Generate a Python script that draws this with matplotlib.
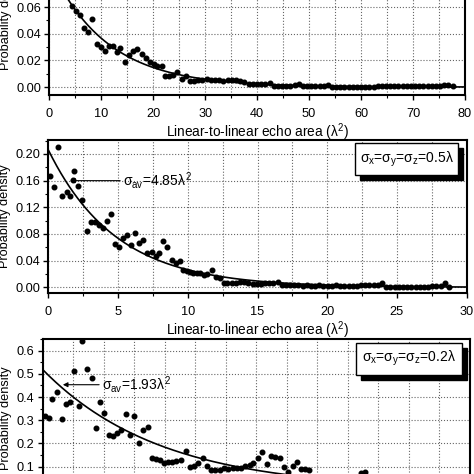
"""Three stacked echo-area PDFs (cropped view): histogram points + exponential fit."""
import matplotlib
matplotlib.use("Agg")
import matplotlib.pyplot as plt
import numpy as np
from matplotlib.patches import Rectangle
from matplotlib.ticker import MultipleLocator
from matplotlib.transforms import offset_copy

plt.rcParams["font.family"] = ["Liberation Sans", "DejaVu Sans"]
plt.rcParams["mathtext.fontset"] = "custom"
plt.rcParams["mathtext.rm"] = "Liberation Sans"
plt.rcParams["mathtext.it"] = "Liberation Sans"
plt.rcParams["mathtext.bf"] = "Liberation Sans:bold"

FS = 9.2
XFS = 9.8
XLABEL = "Linear-to-linear echo area (λ$^2$)"
YLABEL = "Probability density"

# ---- top panel (cropped) ----
TOP_SIGMA_AV = 10.9
top_x = [4.3, 5.1, 5.9, 6.7, 7.5, 8.3, 9.1, 9.9, 10.7, 11.5,
         12.3, 13.0, 13.7, 14.6, 15.3, 16.2, 16.9, 17.8, 18.6, 19.4,
         20.1, 20.8, 21.6, 22.3, 23.1, 23.9, 24.6, 25.5, 26.3, 27.1,
         27.8, 28.7, 29.4, 30.3, 31.1, 31.9, 32.7, 33.5, 34.3, 35.1,
         35.9, 36.7, 37.5,
         38.4, 39.2, 40.0, 40.8, 41.6, 42.4, 43.2, 44.0, 44.8, 45.6,
         46.4, 47.2, 48.0, 48.8, 49.6, 50.4, 51.2, 52.0, 52.8, 53.6,
         54.4, 55.2,
         56.0, 56.8, 57.6, 58.4, 59.2, 60.0, 60.8, 61.6, 62.4, 63.2,
         64.0, 64.8, 65.6, 66.4, 67.2, 68.0, 68.8, 69.6, 70.4, 71.2,
         72.0, 72.8, 73.6, 74.4, 75.2, 76.0, 76.8, 77.6]
top_y = [0.061, 0.057, 0.054, 0.044, 0.041, 0.051, 0.032, 0.030, 0.027, 0.031,
         0.0305, 0.026, 0.029, 0.019, 0.024, 0.027, 0.0286, 0.025, 0.022, 0.019,
         0.0175, 0.0155, 0.0155, 0.0085, 0.0085, 0.0093, 0.011, 0.006, 0.008, 0.0042,
         0.0047, 0.005, 0.0055, 0.006, 0.0055, 0.005, 0.005, 0.0042, 0.005, 0.0055,
         0.0055, 0.0047, 0.0035,
         0.0025, 0.002, 0.002, 0.002, 0.002, 0.003, 0.001, 0.001, 0.001, 0.001,
         0.001, 0.0015, 0.0025, 0.001, 0.001, 0.0008, 0.0008, 0.0008, 0.0008, 0.0012,
         -0.0002, 0.0,
         0.0003, 0.0003, 0.0003, 0.0003, 0.0003, 0.0003, 0.0003, 0.0003, 0.0003, 0.0004,
         0.0004, 0.0004, 0.0005, 0.0005, 0.0005, 0.0005, 0.0006, 0.0006, 0.0006, 0.0006,
         0.0007, 0.0008, 0.0009, 0.001, 0.001, 0.0012, 0.0015, 0.0008]

# ---- middle panel: sigma = 0.5 lambda ----
MID_SIGMA_AV = 4.85
mid_x = [0.12, 0.40, 0.72, 1.00, 1.32, 1.56, 1.75, 1.87, 2.15, 2.44,
         2.75, 3.04, 3.35, 3.61, 3.90, 4.18, 4.47, 4.78, 5.07, 5.33,
         5.67, 5.93, 6.22, 6.53, 6.81, 7.10, 7.41, 7.70, 7.96, 8.24,
         8.53, 8.85, 9.13, 9.44, 9.68, 9.92, 10.16, 10.40, 10.64, 10.87,
         11.16, 11.40, 11.71, 12.00, 12.31, 12.60, 12.83, 13.15, 13.46, 13.74,
         14.03, 14.34, 14.65, 14.94, 15.23, 15.54, 15.84, 16.13, 16.44,
         16.73, 17.03, 17.33, 17.63, 17.93, 18.23, 18.53, 18.83, 19.13, 19.43,
         19.73, 20.03, 20.33, 20.63, 20.93, 21.23, 21.53, 21.83, 22.13, 22.43,
         22.73, 23.03, 23.33, 23.63, 23.93, 24.23, 24.53, 24.83, 25.13, 25.43,
         25.73, 26.03, 26.33, 26.63, 26.93, 27.23, 27.53, 27.83, 28.13, 28.43,
         28.73]
mid_y = [0.167, 0.151, 0.211, 0.137, 0.143, 0.137, 0.161, 0.174, 0.152, 0.131,
         0.085, 0.098, 0.098, 0.094, 0.089, 0.099, 0.110, 0.065, 0.060, 0.074,
         0.079, 0.064, 0.082, 0.066, 0.071, 0.051, 0.053, 0.047, 0.052, 0.070,
         0.060, 0.041, 0.037, 0.040, 0.026, 0.024, 0.023, 0.022, 0.022, 0.021,
         0.019, 0.020, 0.026, 0.016, 0.0135, 0.006, 0.007, 0.0065, 0.0065, 0.008,
         0.0075, 0.0065, 0.005, 0.005, 0.005, 0.006, 0.007, 0.006, 0.0075,
         0.004, 0.004, 0.003, 0.003, 0.003, 0.002, 0.003, 0.002, 0.002, 0.003,
         0.002, 0.002, 0.002, 0.003, 0.002, 0.002, 0.002, 0.002, 0.002, 0.003,
         0.003, 0.003, 0.003, 0.004, 0.007, 0.001, 0.001, 0.001, 0.001, 0.001,
         0.001, 0.001, 0.001, 0.001, 0.001, 0.001, 0.002, 0.002, 0.002, 0.007,
         0.000]

# ---- bottom panel (cropped): sigma = 0.2 lambda ----
BOT_SIGMA_AV = 1.93
bot_x = [0.03, 0.10, 0.16, 0.24, 0.31, 0.38, 0.45, 0.52, 0.59, 0.65,
         0.73, 0.80, 0.87, 0.94, 1.01, 1.08, 1.15, 1.22, 1.29, 1.36,
         1.43, 1.50, 1.57, 1.64, 1.72, 1.79, 1.85, 1.92, 1.99, 2.05,
         2.12, 2.19, 2.27, 2.34, 2.41, 2.48, 2.55, 2.62, 2.69, 2.76,
         2.83, 2.90, 2.97, 3.04, 3.11, 3.18, 3.25, 3.32, 3.39, 3.45,
         3.53, 3.60, 3.67, 3.74, 3.81, 3.88, 3.96, 4.02, 4.10, 4.17,
         4.23, 4.30, 4.37, 5.21, 5.28]
bot_y = [0.318, 0.311, 0.390, 0.423, 0.307, 0.370, 0.380, 0.510, 0.362, 0.642,
         0.520, 0.481, 0.266, 0.380, 0.330, 0.237, 0.232, 0.244, 0.258, 0.326,
         0.237, 0.320, 0.201, 0.258, 0.272, 0.136, 0.132, 0.129, 0.115, 0.122,
         0.122, 0.125, 0.129, 0.168, 0.100, 0.104, 0.117, 0.136, 0.103, 0.086,
         0.086, 0.086, 0.093, 0.090, 0.093, 0.096, 0.093, 0.103, 0.107, 0.117,
         0.136, 0.161, 0.113, 0.145, 0.142, 0.139, 0.097, 0.075, 0.104, 0.119,
         0.088, 0.088, 0.086, 0.074, 0.078]

W = H = 474


def frac(left, top, right, bottom):
    """pixel box (from top-left) -> figure fraction rect"""
    return [left / W, 1 - bottom / H, (right - left) / W, (bottom - top) / H]


def style(ax, xmax, xmaj, xmin, ymaj, ylim):
    ax.set_xlim(0, xmax)
    ax.set_ylim(*ylim)
    ax.xaxis.set_major_locator(MultipleLocator(xmaj))
    ax.xaxis.set_minor_locator(MultipleLocator(xmin))
    ax.yaxis.set_major_locator(MultipleLocator(ymaj))
    ax.yaxis.set_minor_locator(MultipleLocator(ymaj / 2))
    ax.set_axisbelow(True)
    ax.grid(True, which="major", ls=":", color="0.4", lw=0.8)
    ax.grid(True, which="minor", axis="x", ls=":", color="0.4", lw=0.8)
    for s in ax.spines.values():
        s.set_linewidth(1.5)
    ax.tick_params(which="major", direction="out", length=3.5, width=1,
                   labelsize=FS)
    ax.tick_params(which="minor", direction="out", length=2, width=0.8)
    ax.tick_params(axis="x", which="major", pad=6)
    ax.tick_params(axis="y", which="major", pad=2.5)
    ax.set_ylabel(YLABEL, fontsize=FS, labelpad=3)


def draw(ax, x, y, sigma, xmax):
    xc = np.linspace(0, xmax, 400)
    ax.plot(xc, np.exp(-xc / sigma) / sigma, color="black", lw=1.2, zorder=3)
    ax.plot(x, y, "o", color="black", ms=3.3, mec="black", zorder=4)


def sigma_note(ax, tip_x, tip_y, text_x, sigma):
    ax.annotate(r"$\sigma_{\rm av}$=%.2f$\lambda^2$" % sigma,
                xy=(tip_x, tip_y), xytext=(text_x, tip_y), va="center",
                fontsize=10, zorder=6,
                arrowprops=dict(arrowstyle="-|>", color="black", lw=0.8,
                                mutation_scale=7, shrinkA=0, shrinkB=0))


def shadow_box(ax, x0, y0, x1, y1, text):
    shadow = offset_copy(ax.transAxes, fig=ax.figure, x=5, y=-5, units="dots")
    ax.add_patch(Rectangle((x0, y0), x1 - x0, y1 - y0, transform=shadow,
                           facecolor="black", edgecolor="black", zorder=7,
                           clip_on=False))
    ax.add_patch(Rectangle((x0, y0), x1 - x0, y1 - y0, transform=ax.transAxes,
                           facecolor="white", edgecolor="black", lw=1.0,
                           zorder=8, clip_on=False))
    ax.text((x0 + x1) / 2, (y0 + y1) / 2, text, transform=ax.transAxes,
            ha="center", va="center", fontsize=10, zorder=9)


fig = plt.figure(figsize=(W / 100, H / 100), dpi=100)

# top
ax1 = fig.add_axes(frac(49.3, -58, 465, 95))
style(ax1, 80, 10, 5, 0.02, (-0.006, 0.109))
draw(ax1, top_x, top_y, TOP_SIGMA_AV, 80)
ax1.set_xlabel(XLABEL, fontsize=XFS, labelpad=1.0)

# middle
ax2 = fig.add_axes(frac(48.3, 140, 466.7, 293.3))
style(ax2, 30, 5, 2.5, 0.04, (-0.009, 0.221))
draw(ax2, mid_x, mid_y, MID_SIGMA_AV, 30)
ax2.set_xlabel(XLABEL, fontsize=XFS, labelpad=1.0)
sigma_note(ax2, 1.56, 0.16, 5.35, MID_SIGMA_AV)
shadow_box(ax2, 0.733, 0.772, 0.979, 0.980,
           r"$\sigma_x$=$\sigma_y$=$\sigma_z$=0.5$\lambda$")

# bottom
ax3 = fig.add_axes(frac(42.7, 339, 470, 496.8))
style(ax3, 7, 1, 0.5, 0.1, (-0.03, 0.65))
draw(ax3, bot_x, bot_y, BOT_SIGMA_AV, 7)
sigma_note(ax3, 0.33, 0.453, 0.97, BOT_SIGMA_AV)
shadow_box(ax3, 0.733, 0.772, 0.981, 0.977,
           r"$\sigma_x$=$\sigma_y$=$\sigma_z$=0.2$\lambda$")

fig.savefig("out.png", dpi=100)
